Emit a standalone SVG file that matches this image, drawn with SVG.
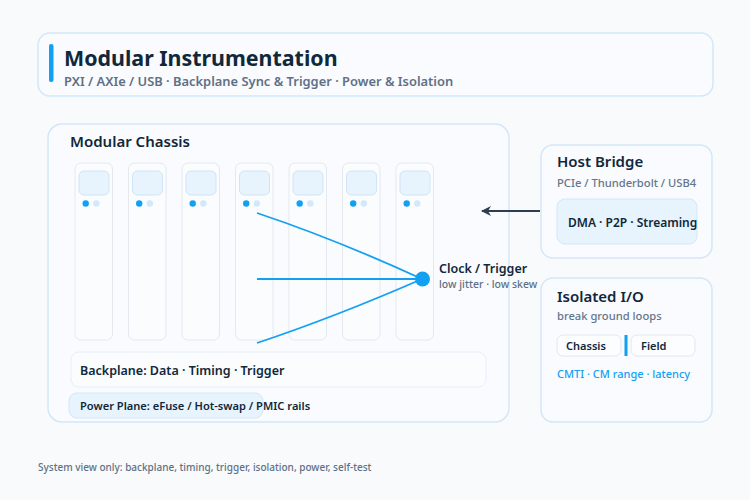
<svg xmlns="http://www.w3.org/2000/svg" width="750" height="500" viewBox="0 0 750 500">
<style>
text{font-family:"Noto Sans","DejaVu Sans",sans-serif}
.card{fill:#f9fbfe;stroke:#d3e7f8;stroke-width:1.5}
.slot{fill:#fafcfe;stroke:#e4e9ef;stroke-width:1}
.mod{fill:#e7f3fd;stroke:#cfe4f7;stroke-width:1}
.on{fill:#12a0f3}
.off{fill:#d3e8fa}
.h1{font-size:21.4px;font-weight:700;fill:#10283a}
.h2{font-size:15px;font-weight:600;fill:#10283a}
.sub{font-size:11.2px;font-weight:500;fill:#66768a}
.lbl{font-size:12px;font-weight:600;fill:#10283a}
.wire{fill:none;stroke:#12a0f3;stroke-width:1.8}
.pill{fill:#fbfdff;stroke:#e1e8f0;stroke-width:1}
</style>
<defs>
<marker id="ah" markerWidth="10" markerHeight="10" refX="9" refY="5" orient="auto" markerUnits="userSpaceOnUse">
<path d="M0,0 L10,5 L0,10 L3,5 Z" fill="#2d3e50"/>
</marker>
</defs>
<rect width="750" height="500" fill="#f8fafc"/>

<g id="header">
<rect class="card" x="38" y="33" width="675" height="63" rx="12"/>
<rect x="49" y="44" width="4.5" height="38" rx="2" fill="#12a0f3"/>
<text class="h1" x="64" y="66">Modular Instrumentation</text>
<text x="64" y="86" style="font-size:12.9px;font-weight:600;fill:#5f7085">PXI / AXIe / USB · Backplane Sync &amp; Trigger · Power &amp; Isolation</text>
</g>

<g id="chassis">
<rect class="card" x="48" y="124" width="461" height="298" rx="14"/>
<text class="h2" x="70" y="147">Modular Chassis</text>
<g id="slots">
<rect class="slot" x="75" y="163" width="37.5" height="177" rx="6"/>
<rect class="mod" x="79" y="171" width="30" height="24" rx="5"/>
<circle class="on" cx="85.7" cy="203.5" r="3.2"/><circle class="off" cx="96.3" cy="203.5" r="3.2"/>
<rect class="slot" x="128.5" y="163" width="37.5" height="177" rx="6"/>
<rect class="mod" x="132.5" y="171" width="30" height="24" rx="5"/>
<circle class="on" cx="139.2" cy="203.5" r="3.2"/><circle class="off" cx="149.8" cy="203.5" r="3.2"/>
<rect class="slot" x="182" y="163" width="37.5" height="177" rx="6"/>
<rect class="mod" x="186" y="171" width="30" height="24" rx="5"/>
<circle class="on" cx="192.7" cy="203.5" r="3.2"/><circle class="off" cx="203.3" cy="203.5" r="3.2"/>
<rect class="slot" x="235.5" y="163" width="37.5" height="177" rx="6"/>
<rect class="mod" x="239.5" y="171" width="30" height="24" rx="5"/>
<circle class="on" cx="246.2" cy="203.5" r="3.2"/><circle class="off" cx="256.8" cy="203.5" r="3.2"/>
<rect class="slot" x="289" y="163" width="37.5" height="177" rx="6"/>
<rect class="mod" x="293" y="171" width="30" height="24" rx="5"/>
<circle class="on" cx="299.7" cy="203.5" r="3.2"/><circle class="off" cx="310.3" cy="203.5" r="3.2"/>
<rect class="slot" x="342.5" y="163" width="37.5" height="177" rx="6"/>
<rect class="mod" x="346.5" y="171" width="30" height="24" rx="5"/>
<circle class="on" cx="353.2" cy="203.5" r="3.2"/><circle class="off" cx="363.8" cy="203.5" r="3.2"/>
<rect class="slot" x="396" y="163" width="37.5" height="177" rx="6"/>
<rect class="mod" x="400" y="171" width="30" height="24" rx="5"/>
<circle class="on" cx="406.7" cy="203.5" r="3.2"/><circle class="off" cx="417.3" cy="203.5" r="3.2"/>
</g>
<rect x="71" y="352" width="415" height="35" rx="8" fill="#fafcfe" stroke="#e6f0fa" stroke-width="1"/>
<text x="80" y="375" style="font-size:12.5px;font-weight:600;fill:#10283a">Backplane: Data · Timing · Trigger</text>
<rect x="69" y="393" width="194" height="25" rx="8" fill="#e7f3fd" stroke="#d3e7f8" stroke-width="1"/>
<text x="80" y="410" style="font-size:11.1px;font-weight:600;fill:#10283a">Power Plane: eFuse / Hot-swap / PMIC rails</text>
</g>

<g id="connectors">
<path class="wire" d="M257,213 Q335,239 422,279"/>
<path class="wire" d="M257,279 L422,279"/>
<path class="wire" d="M257,343 Q335,317 422,279"/>
<line x1="540" y1="211" x2="482" y2="211" stroke="#2d3e50" stroke-width="1.8" marker-end="url(#ah)"/>
</g>

<g id="clock">
<circle cx="422.5" cy="279" r="7.5" fill="#12a0f3"/>
<text x="439" y="273" style="font-size:12.5px;font-weight:600;fill:#10283a">Clock / Trigger</text>
<text x="439" y="288" style="font-size:10.5px;font-weight:500;fill:#5f7085">low jitter · low skew</text>
</g>

<g id="host-bridge">
<rect class="card" x="541" y="145" width="171" height="113" rx="12"/>
<text class="h2" x="557" y="167">Host Bridge</text>
<text class="sub" x="557" y="187">PCIe / Thunderbolt / USB4</text>
<rect x="557" y="199" width="140" height="45" rx="8" fill="#e7f3fd" stroke="#d3e7f8" stroke-width="1"/>
<text class="lbl" x="568" y="227">DMA · P2P · Streaming</text>
</g>

<g id="isolated-io">
<rect class="card" x="541" y="278" width="171" height="144" rx="12"/>
<text class="h2" x="557" y="302">Isolated I/O</text>
<text class="sub" x="557" y="320">break ground loops</text>
<rect class="pill" x="557" y="335" width="64" height="21" rx="6"/>
<text x="566" y="350" style="font-size:11px;font-weight:600;fill:#10283a">Chassis</text>
<rect x="624.5" y="335" width="3" height="21" fill="#12a0f3"/>
<rect class="pill" x="631" y="335" width="64" height="21" rx="6"/>
<text x="641" y="350" style="font-size:11px;font-weight:600;fill:#10283a">Field</text>
<text x="557" y="378" style="font-size:11px;font-weight:500;fill:#12a0f3">CMTI · CM range · latency</text>
</g>

<text x="38" y="471" style="font-size:10px;font-weight:500;fill:#5f7085">System view only: backplane, timing, trigger, isolation, power, self-test</text>
</svg>
